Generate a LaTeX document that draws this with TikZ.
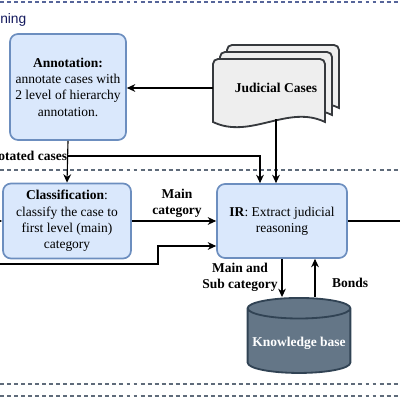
\documentclass[tikz,border=0pt]{standalone}
\usepackage{fontspec}
\setmainfont{Liberation Serif}
\newfontfamily\lanefont{Liberation Sans}
\usetikzlibrary{arrows.meta,shapes.geometric,calc}

\definecolor{boxfill}{HTML}{DAE8FC}
\definecolor{boxline}{HTML}{6C8EBF}
\definecolor{docfill}{HTML}{EEEEEE}
\definecolor{docline}{HTML}{36393D}
\definecolor{kbfill}{HTML}{647687}
\definecolor{kbline}{HTML}{314354}
\definecolor{laneline}{HTML}{5F6B7A}
\definecolor{lanetop}{HTML}{56659A}
\definecolor{lanetitle}{HTML}{141A5E}

\tikzset{
  stepbox/.style={draw=boxline,fill=boxfill,line width=1.2pt,rounded corners=0.2cm,align=center,inner sep=2pt,font=\fontsize{9.6}{11.6}\selectfont},
  casedoc/.style={draw=docline,fill=docfill,line width=1.3pt},
  kbstore/.style={cylinder,shape border rotate=90,aspect=0.2,draw=kbline,fill=kbfill,line width=1.3pt,text=white,font=\fontsize{9.6}{11.6}\selectfont\bfseries,minimum width=2.5cm,minimum height=1.875cm},
  flow/.style={line width=0.8pt,-{Stealth[length=6pt,width=5.5pt]}},
  link/.style={line width=0.8pt},
  lbl/.style={font=\fontsize{9.6}{11.6}\selectfont\bfseries,align=center,inner sep=1pt},
  lanesep/.style={draw=laneline,line width=0.9pt,dash pattern=on 2.8pt off 2.2pt},
}

% one page of the document stack, lower left corner at #1
\newcommand{\casepage}[1]{%
  \draw[casedoc,shift={#1}] (0,0) -- (0,1.45) arc[start angle=180,end angle=90,radius=0.125]
    -- (2.675,1.575) arc[start angle=90,end angle=0,radius=0.125]
    -- (2.8,0) .. controls (1.87,0.45) and (0.93,-0.45) .. (0,0) -- cycle;}

\begin{document}
\begin{tikzpicture}
  \useasboundingbox (0,0) rectangle (10,10);
  % lanes
  \draw[lanesep,draw=lanetop] (0,9.95) -- (10,9.95);
  \node[anchor=west,inner sep=0pt,text=lanetitle,font=\lanefont\fontsize{9.8}{11}\selectfont] (lane) at (0,9.5) {ning};
  \draw[lanesep] (0,5.75) -- (10,5.75);
  \draw[lanesep] (0,0.4) -- (10,0.4);
  \draw[lanesep] (0,0.1) -- (10,0.1);

  % judicial cases
  \casepage{(5.675,7.3)}
  \casepage{(5.5,7.125)}
  \casepage{(5.325,6.95)}
  \node[lbl,minimum width=3.15cm,minimum height=1.55cm,inner sep=0pt] (cases) at (6.9,7.8) {Judicial Cases};

  \node[stepbox,minimum width=2.9cm,minimum height=2.65cm] (ann) at (1.7,7.825) {\textbf{Annotation:}\\annotate cases with\\2 level of hierarchy\\annotation.};
  \node[stepbox,minimum width=3.2cm,minimum height=1.875cm] (cls) at (1.675,4.475) {\textbf{Classification}:\\classify the case to\\first level (main)\\category};
  \node[stepbox,minimum width=3.25cm,minimum height=1.85cm] (ir) at (7.05,4.475) {\textbf{IR}: Extract judicial\\reasoning};
  \node[kbstore] (kb) at (7.475,1.42) {Knowledge base};

  % connectors
  \draw[flow] (cases.west) -- (cases.west -| ann.east);
  \draw[flow] (ann.south) -- (cls.north);
  \coordinate (split) at (ann.south |- 0,6.1);
  \node[lbl,anchor=east,inner sep=0.5pt] (annlbl) at (split) {otated cases};
  \draw[flow] (split) -| ($(ir.north)+(-0.55,0)$);
  \draw[flow] (cases.south) -- (cases.south |- ir.north);
  \draw[flow] (cls.east) -- (ir.west);
  \node[lbl] (mainlbl) at (4.425,4.925) {Main\\category};
  \coordinate (in0) at (-0.2,3.4);
  \coordinate (bend) at (3.95,3.85);
  \draw[flow] (in0) -| (bend) -- (bend -| ir.west);
  \coordinate (in1) at (-0.4,4.475);
  \draw[flow] (in1) -- (cls.west);
  \coordinate (out) at (10.2,4.475);
  \draw[link] (ir.east) -- (out);
  \draw[flow] (ir.south) -- (ir.south |- kb.north);
  \draw[flow] ($(ir.south |- kb.north)+(0.825,0)$) -- ($(ir.south)+(0.825,0)$);
  \node[lbl] (sublbl) at (6.0,3.075) {Main and\\Sub category};
  \node[lbl] (bondlbl) at (8.75,2.925) {Bonds};
\end{tikzpicture}
\end{document}
